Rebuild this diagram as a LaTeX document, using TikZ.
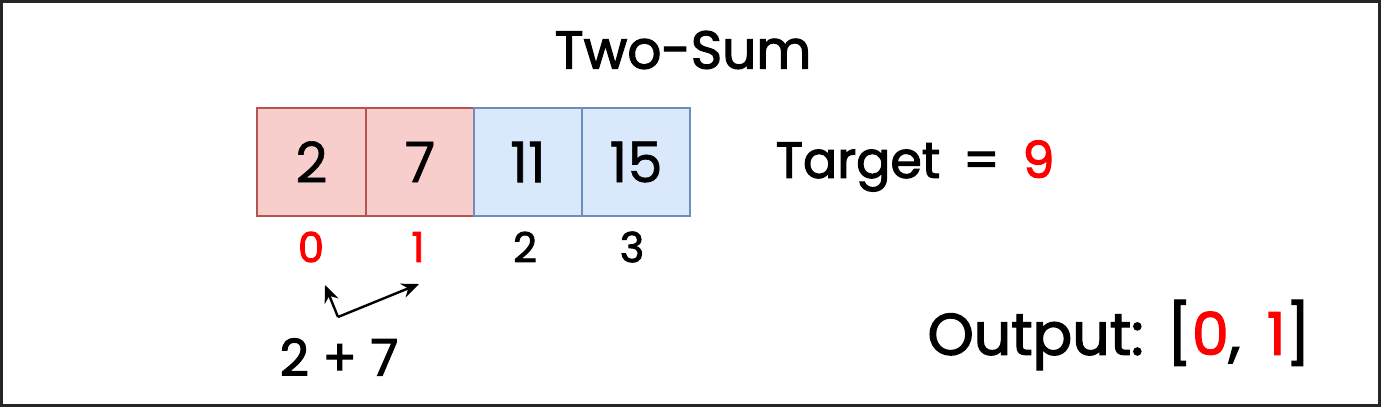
\documentclass[tikz,border=0pt]{standalone}
\usepackage{fontspec}
\setmainfont{Poppins}
\newfontfamily\heavy{Poppins}[FakeBold=2.2]
\newfontfamily\medium{Poppins}[FakeBold=1]
\usetikzlibrary{arrows.meta}
\definecolor{redfill}{HTML}{F8CECC}
\definecolor{redline}{HTML}{B85450}
\definecolor{bluefill}{HTML}{DAE8FC}
\definecolor{blueline}{HTML}{6C8EBF}
\definecolor{hot}{HTML}{FF0000}
\tikzset{
  cell/.style={draw, line width=1.5pt, minimum width=81.4pt, minimum height=81pt, inner sep=0pt, font=\medium\fontsize{42}{48}\selectfont},
  redcell/.style={cell, fill=redfill, draw=redline},
  bluecell/.style={cell, fill=bluefill, draw=blueline},
  idx/.style={inner sep=0pt, font=\heavy\fontsize{31}{36}\selectfont},
  lbl/.style={inner sep=0pt},
  arr/.style={line width=1.8pt, -{Stealth[length=13pt,width=11pt]}}
}
\begin{document}
\begin{tikzpicture}[x=0.75pt,y=-0.75pt]
\useasboundingbox (0,0) rectangle (1381,407);
\draw[line width=2.5pt, draw=black!85] (1.5,1.5) rectangle (1379.5,405.5);
\node[lbl, font=\heavy\fontsize{40}{48}\selectfont] (title) at (683,50) {Two-Sum};
\node[redcell] (b0) at (311.5,162) {2};
\node[redcell] (b1) at (420,162) {7};
\node[bluecell] (b2) at (528,162) {11};
\node[bluecell] (b3) at (636,162) {15};
\node[idx, text=hot] (i0) at (311,247) {0};
\node[idx, text=hot] (i1) at (418,247) {1};
\node[idx] (i2) at (525,247) {2};
\node[idx] (i3) at (632,247) {3};
\coordinate (corner) at (338,317);
\coordinate (tipA) at (325,285);
\coordinate (tipB) at (419,284);
\draw[arr] (corner) -- (tipA);
\draw[arr] (corner) -- (tipB);
\node[lbl, font=\heavy\fontsize{38}{44}\selectfont] (sum) at (339,357) {2 + 7};
\node[lbl, font=\heavy\fontsize{38}{44}\selectfont] (target) at (915,166) {Target\hspace{0.45em}=\hspace{0.45em}\textcolor{hot}{9}};
\node[lbl, font=\heavy\fontsize{44}{50}\selectfont] (output) at (1119,335) {Output:\hspace{0.4em}[\textcolor{hot}{0},\hspace{0.45em}\textcolor{hot}{1}]};
\end{tikzpicture}
\end{document}
